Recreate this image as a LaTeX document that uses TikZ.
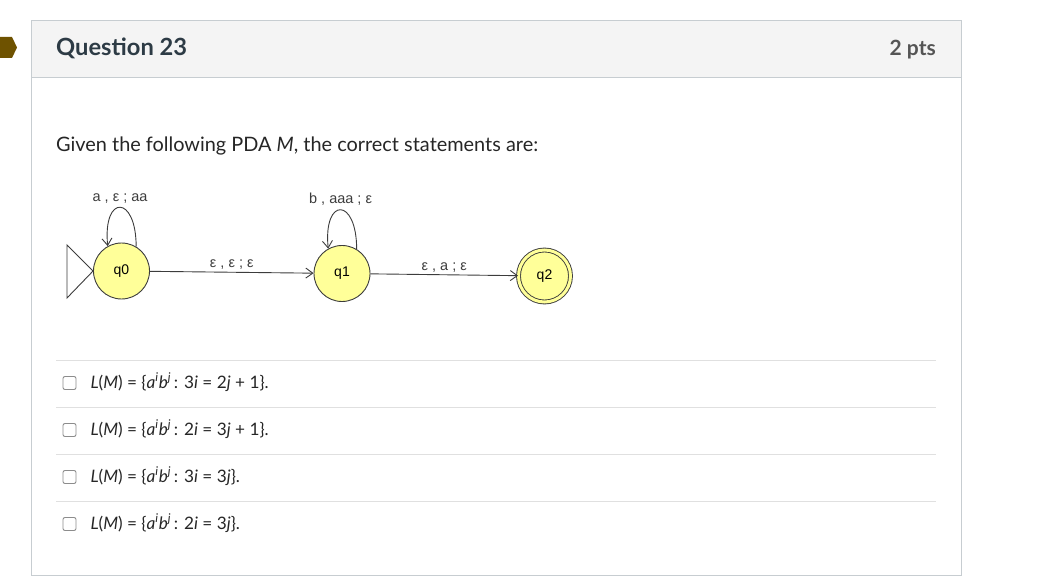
\documentclass[tikz,border=0pt]{standalone}
\usepackage{fontspec}
\setmainfont{Lato}
\newfontfamily\pdafont{Liberation Sans}
\usetikzlibrary{arrows.meta,calc,positioning}

\definecolor{hdrgray}{RGB}{244,244,244}
\definecolor{boxline}{RGB}{199,205,209}
\definecolor{sepline}{RGB}{224,224,224}
\definecolor{titletext}{RGB}{45,59,69}
\definecolor{ptstext}{RGB}{85,85,85}
\definecolor{marker}{RGB}{110,82,0}
\definecolor{statefill}{RGB}{255,255,153}
\definecolor{pdaline}{RGB}{60,60,60}

\tikzset{
  state/.style={circle,draw=pdaline,line width=0.9pt,fill=statefill,minimum size=56pt,inner sep=0pt,
    font=\pdafont\fontsize{14}{16}\selectfont},
  trans/.style={draw=pdaline,line width=0.9pt,-{Straight Barb[length=7pt,width=10pt]}},
  pdalabel/.style={font=\pdafont\fontsize{14.5}{16}\selectfont,text=pdaline,inner sep=1pt},
  checkbox/.style={draw=gray!90,line width=0.9pt,rounded corners=2pt,minimum size=13pt,inner sep=0pt},
  choice/.style={anchor=base west,font=\fontsize{17.2}{21}\selectfont,text=black!85}
}

\begin{document}
\begin{tikzpicture}[x=1pt,y=-1pt]
		\useasboundingbox (0,0) rectangle (1060,585);
		% question frame
		\fill[hdrgray] (31,20) rectangle (961,77);
		\draw[boxline] (31,20) rectangle (961,575);
		\draw[boxline] (31,77) -- (961,77);
		\fill[marker] (0,37) -- (12,37) -- (17,47.5) -- (12,58) -- (0,58) -- cycle;
		\node[anchor=base west,font=\bfseries\fontsize{23.7}{27}\selectfont,text=titletext,inner sep=0pt] (title) at (56,56) {Question 23};
		\node[anchor=base east,font=\bfseries\fontsize{21}{24}\selectfont,text=ptstext,inner sep=0pt] (pts) at (936,56) {2 pts};
		\node[anchor=base west,font=\fontsize{19.9}{23}\selectfont,text=black!85,inner sep=0pt] (given) at (56,152) {Given the following PDA \textit{M}, the correct statements are:};
		% the PDA
		\node[state] (q0) at (121.5,271) {q0};
		\node[state] (q1) at (342,273.5) {q1};
		\node[state,double=statefill,double distance=3pt,minimum size=52pt] (q2) at (544.5,276) {q2};
		\draw[pdaline,line width=0.9pt] (q0.west) -- (67,245) -- (67,298) -- cycle;
		\draw[trans] (q0.59) .. controls +(0,-52) and +(-5,-52) .. (q0.119)
			node[pdalabel,pos=0.5,above=3pt] (l00) {a , ε ; aa};
		\draw[trans] (q1.59) .. controls +(0,-52) and +(-5,-52) .. (q1.119)
			node[pdalabel,pos=0.5,above=3pt] (l11) {b , aaa ; ε};
		\draw[trans] (q0) -- (q1) node[pdalabel,midway,above=1pt] (l01) {ε , ε ; ε};
		\draw[trans] (q1) -- (q2) node[pdalabel,midway,above=1pt] (l12) {ε , a ; ε};
		% the choices
		\foreach \y in {360,407,454,501}
			\draw[sepline] (56,\y) -- (936,\y);
		\foreach \n/\y/\rel in {1/383/3\textit{i} = 2\textit{j} + 1,2/430/2\textit{i} = 3\textit{j} + 1,3/477/3\textit{i} = 3\textit{j},4/524/2\textit{i} = 3\textit{j}}{
			\node[checkbox] (box\n) at (69.5,\y) {};
			\node[choice] (opt\n) at (87,\y+5) {\textit{L}(\textit{M}) = \{\textit{a}\textsuperscript{\textit{i}}\textit{b}\textsuperscript{\textit{j}}\,: \rel\}.};
		}
		\end{tikzpicture}
\end{document}
